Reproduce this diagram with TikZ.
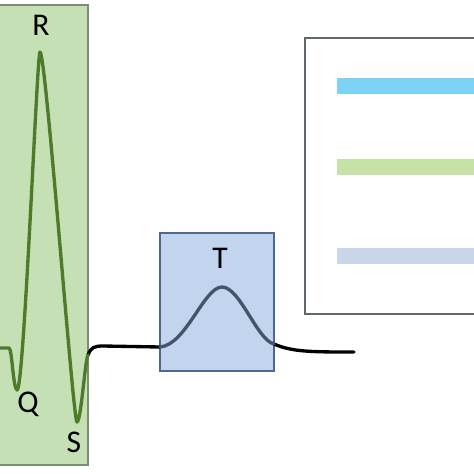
\documentclass[tikz,border=0pt]{standalone}
\usepackage{fontspec}
\setmainfont{Carlito}
\usetikzlibrary{positioning}
\definecolor{qrsfill}{HTML}{C5E0B4}
\definecolor{qrsdraw}{HTML}{7A8C74}
\definecolor{qrswave}{HTML}{4E7A2B}
\definecolor{tfill}{HTML}{C2D4EE}
\definecolor{tdraw}{HTML}{4F6890}
\definecolor{twave}{HTML}{44546A}
\definecolor{legdraw}{HTML}{5F6670}
\definecolor{barblue}{HTML}{7DD3F6}
\definecolor{bargreen}{HTML}{C6E2A6}
\definecolor{bargrey}{HTML}{C9D6E9}

\begin{document}
\begin{tikzpicture}[x=0.02cm, y=-0.02cm,
    segment/.style={draw, line width=0.8pt, inner sep=0pt},
    wave/.style={line width=1.9pt, line cap=round, line join=round},
    peak/.style={font=\fontsize{18}{20}\selectfont, inner sep=0pt},
    bar/.style={inner sep=0pt, minimum width=3.2cm, minimum height=0.32cm}
]
\clip (0,0) rectangle (474,474);
\useasboundingbox (0,0) rectangle (474,474);

% shaded parts of the beat
\node[segment, draw=qrsdraw, fill=qrsfill, minimum width=1.84cm, minimum height=9.2cm] (qrs) at (42,235) {};
\node[segment, draw=tdraw, fill=tfill, minimum width=2.28cm, minimum height=2.76cm] (tbox) at (217,302) {};

% legend
\node[segment, draw=legdraw, line width=1pt, minimum width=3.8cm, minimum height=5.52cm] (legend) at (400,176) {};
\node[bar, fill=barblue] (bar1) at (417,86) {};
\node[bar, fill=bargreen] (bar2) at (417,167) {};
\node[bar, fill=bargrey] (bar3) at (417,256) {};

% ecg trace
\coordinate (qrsend) at (88,355);
\coordinate (tstart) at (160,347);
\coordinate (tend) at (274,344);
\draw[wave, black] (qrsend) .. controls (91,347) and (95,346) .. (103,346) -- (tstart);
\draw[wave, black] (tend) .. controls (292,352) and (312,352) .. (354,352);
\draw[wave, qrswave] (-5,348) -- (9,348) .. controls (12,348) and (13,388) .. (17,390)
    .. controls (24,393) and (37,52) .. (40,52)
    .. controls (46,52) and (73,422) .. (77,422)
    .. controls (81,422) and (85,360) .. (qrsend);
\draw[wave, twave] (tstart) .. controls (186,345) and (204,287) .. (222,287)
    .. controls (240,287) and (257,340) .. (tend);

% wave labels
\node[peak] (R) at (41,25) {R};
\node[peak] (Q) at (28,404) {Q};
\node[peak] (S) at (74,442) {S};
\node[peak] (T) at (220,258) {T};

\end{tikzpicture}
\end{document}
